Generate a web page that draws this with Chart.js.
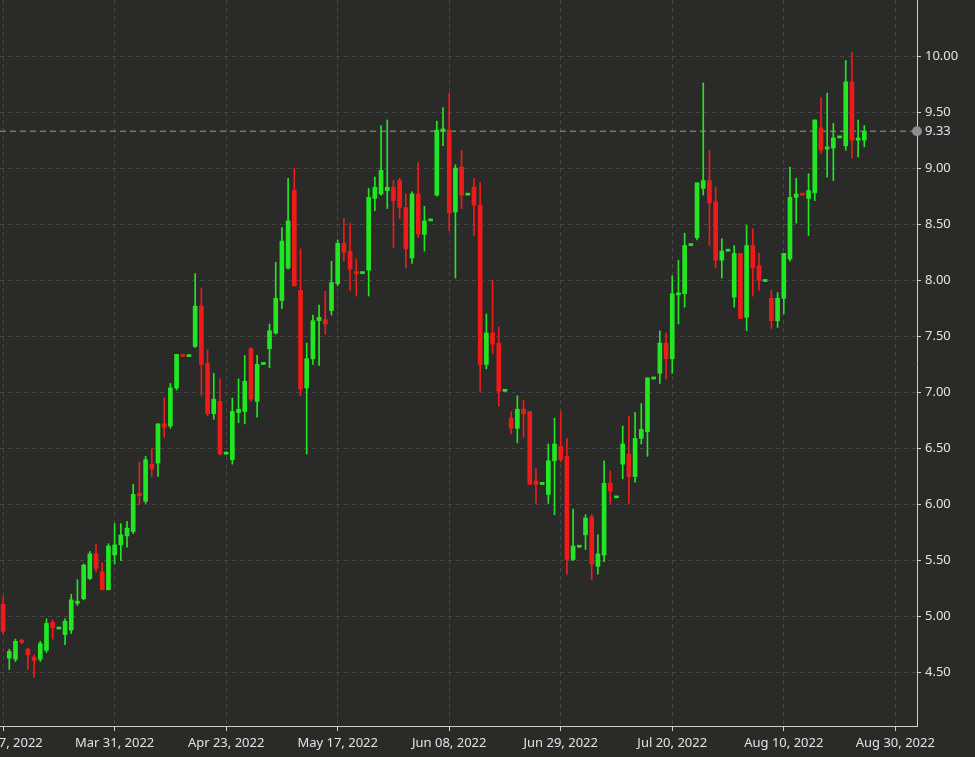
<!DOCTYPE html>
<html>
<head>
<meta charset="utf-8">
<script src="https://cdn.jsdelivr.net/npm/chart.js@4"></script>
<style>
  html, body { margin: 0; padding: 0; background: #2a2b29; }
  #wrap { width: 975px; height: 757px; position: relative; }
</style>
</head>
<body>
<div id="wrap"><canvas id="priceChart"></canvas></div>
<script>
// OHLC per trading day (index 0 = first candle)
const opens = [5.11,4.63,4.62,4.79,4.71,4.64,4.62,4.70,4.95,4.89,4.84,4.88,5.12,5.16,5.34,5.56,5.40,5.24,5.55,5.64,
  5.72,5.76,6.10,6.03,6.36,6.37,6.72,6.70,7.04,7.33,7.32,7.41,7.77,7.26,6.81,6.92,6.45,6.40,6.82,6.83,
  7.39,6.92,7.25,7.39,7.53,7.82,8.11,8.80,7.91,7.04,7.30,7.64,7.65,7.73,7.97,8.33,8.26,8.07,8.06,8.09,
  8.73,8.77,8.80,8.83,8.89,8.65,8.20,8.77,8.41,8.53,8.76,9.33,9.34,8.61,9.01,8.76,8.83,8.67,7.25,7.53,
  7.44,7.01,6.77,6.68,6.85,6.83,6.21,6.18,6.09,6.39,6.52,6.43,5.51,5.62,5.73,5.89,5.45,5.55,6.19,6.06,
  6.36,6.45,6.25,6.59,6.65,7.12,7.17,7.44,7.30,7.87,7.88,8.31,8.38,8.82,8.89,8.70,8.18,8.26,7.85,8.24,
  7.67,8.31,8.13,7.99,7.84,7.64,7.84,8.19,8.74,8.77,8.73,8.78,9.36,9.17,9.18,9.27,9.20,9.77,9.25,9.25];
const closes = [4.87,4.69,4.78,4.77,4.66,4.61,4.76,4.94,4.90,4.90,4.96,5.15,5.13,5.46,5.56,5.43,5.24,5.63,5.64,5.73,
  5.79,6.09,6.08,6.40,6.32,6.72,6.69,7.04,7.34,7.32,7.33,7.77,7.25,6.81,6.94,6.45,6.46,6.83,6.85,7.10,
  6.94,7.25,7.26,7.55,7.84,8.35,8.53,7.95,7.03,7.30,7.64,7.67,7.61,7.98,8.33,8.25,8.10,8.06,8.07,8.74,
  8.83,8.98,8.83,8.71,8.65,8.28,8.77,8.41,8.53,8.54,9.34,9.35,8.60,9.00,8.76,8.77,8.67,7.25,7.53,7.43,
  7.01,7.02,6.68,6.85,6.81,6.18,6.18,6.19,6.39,6.54,6.40,5.51,5.63,5.63,5.88,5.47,5.56,6.19,6.12,6.07,
  6.54,6.25,6.59,6.67,7.13,7.13,7.44,7.30,7.88,7.88,8.31,8.32,8.87,8.89,8.69,8.18,8.26,8.27,8.24,7.66,
  8.31,8.11,8.00,8.00,7.64,7.84,8.24,8.74,8.77,8.76,8.80,9.43,9.16,9.19,9.27,9.28,9.77,9.25,9.27,9.33];
const highs = [5.18,4.71,4.80,4.80,4.72,4.66,4.78,4.98,4.97,4.90,4.98,5.20,5.33,5.47,5.58,5.65,5.48,5.65,5.83,5.83,
  5.85,6.18,6.38,6.43,6.50,6.72,6.95,7.08,7.34,7.33,7.33,8.06,7.93,7.38,7.17,7.12,6.46,6.95,7.12,7.33,
  7.40,7.33,7.26,7.61,8.16,8.47,8.91,9.00,8.28,7.44,7.69,7.78,7.90,8.17,8.36,8.55,8.51,8.19,8.07,8.82,
  8.92,9.38,9.43,8.89,8.91,8.77,8.79,9.05,8.66,8.54,9.42,9.54,9.67,9.03,9.16,8.77,8.91,8.87,7.70,8.00,
  7.58,7.02,6.83,6.97,6.93,6.83,6.32,6.19,6.54,6.77,6.83,6.59,5.96,5.63,5.91,5.91,5.73,6.39,6.30,6.07,
  6.70,6.79,6.82,6.90,7.13,7.13,7.55,7.53,8.04,8.18,8.42,8.32,8.87,9.76,9.16,8.83,8.37,8.27,8.31,8.24,
  8.49,8.46,8.24,8.00,7.91,7.89,8.24,9.01,8.91,8.77,8.95,9.43,9.63,9.67,9.40,9.28,9.96,10.03,9.43,9.38];
const lows = [4.85,4.53,4.60,4.76,4.53,4.46,4.60,4.68,4.80,4.89,4.75,4.85,5.10,5.15,5.33,5.40,5.24,5.24,5.47,5.50,
  5.62,5.74,6.00,6.01,6.25,6.25,6.60,6.68,7.02,7.32,7.32,7.40,6.97,6.79,6.76,6.44,6.45,6.36,6.73,6.72,
  6.92,6.78,7.25,7.22,7.52,7.75,8.10,7.95,6.97,6.45,7.25,7.24,7.52,7.69,7.95,8.17,7.91,7.86,8.06,7.86,
  8.62,8.76,8.64,8.29,8.55,8.11,8.15,8.38,8.26,8.53,8.75,9.20,8.44,8.02,8.64,8.76,8.40,7.01,7.21,7.35,
  6.88,7.01,6.63,6.55,6.60,6.18,6.01,6.18,6.01,5.91,6.38,5.38,5.50,5.62,5.60,5.33,5.38,5.49,6.01,6.06,
  6.23,6.01,6.20,6.54,6.43,7.12,7.08,7.12,7.17,7.61,7.76,8.31,8.36,8.76,8.31,8.11,8.02,8.26,7.76,7.66,
  7.55,7.86,7.91,7.99,7.57,7.58,7.70,8.17,8.51,8.76,8.40,8.71,9.13,8.92,8.89,9.27,9.16,9.09,9.10,9.19];

const tickIdx = [0, 18, 36, 54, 72, 90, 108, 126, 144];
const tickLabels = ["Mar 07, 2022","Mar 31, 2022","Apr 23, 2022","May 17, 2022","Jun 08, 2022",
  "Jun 29, 2022","Jul 20, 2022","Aug 10, 2022","Aug 30, 2022"];
const priceTicks = [4.5, 5, 5.5, 6, 6.5, 7, 7.5, 8, 8.5, 9, 9.33, 9.5, 10];
const lastPrice = 9.33;

const GREEN = "#22e622";
const RED = "#ee1b1b";
const colors = opens.map((o, i) => (closes[i] < o ? RED : GREEN));

const bodies = opens.map((o, i) => ({ x: i, y: [o, closes[i]] }));
const wicks = lows.map((l, i) => ({ x: i, y: [l, highs[i]] }));

// dashed last-price line with marker dot on the axis
const lastPricePlugin = {
  id: "lastPrice",
  beforeDatasetsDraw(chart) {
    const { ctx, chartArea, scales } = chart;
    const y = scales.y.getPixelForValue(lastPrice);
    ctx.save();
    ctx.strokeStyle = "#9a9a9a";
    ctx.lineWidth = 1;
    ctx.setLineDash([6, 4]);
    ctx.beginPath();
    ctx.moveTo(chartArea.left, y);
    ctx.lineTo(chartArea.right, y);
    ctx.stroke();
    ctx.restore();
  },
  afterDraw(chart) {
    const { ctx, chartArea, scales } = chart;
    const y = scales.y.getPixelForValue(lastPrice);
    ctx.save();
    ctx.fillStyle = "#8c8c8c";
    ctx.beginPath();
    ctx.arc(chartArea.right, y, 5, 0, Math.PI * 2);
    ctx.fill();
    ctx.restore();
  },
};

const ctx = document.getElementById("priceChart").getContext("2d");
new Chart(ctx, {
  type: "bar",
  data: {
    datasets: [
      {
        label: "wick",
        data: wicks,
        backgroundColor: colors,
        barThickness: 1,
        grouped: false,
        order: 2,
      },
      {
        label: "body",
        data: bodies,
        backgroundColor: colors,
        barThickness: 4,
        minBarLength: 2,
        grouped: false,
        order: 1,
      },
    ],
  },
  options: {
    responsive: true,
    maintainAspectRatio: false,
    animation: false,
    layout: { padding: 0 },
    plugins: { legend: { display: false }, tooltip: { enabled: false } },
    scales: {
      x: {
        type: "linear",
        min: -0.5,
        max: 147.5,
        offset: false,
        afterBuildTicks: (scale) => {
          scale.ticks = tickIdx.map((v) => ({ value: v }));
        },
        afterFit: (scale) => {
          scale.height = 31;
          scale.paddingLeft = 0;
          scale.paddingRight = 0;
        },
        ticks: {
          autoSkip: false,
          maxRotation: 0,
          color: "#e2e2e2",
          padding: 4,
          font: { family: "Noto Sans", size: 13 },
          callback: (v, i) => tickLabels[i],
        },
        grid: {
          offset: false,
          color: "#474846",
          tickColor: "#d0d0d0",
          tickLength: 5,
        },
        border: { color: "#d0d0d0", dash: [4, 4], width: 1 },
      },
      y: {
        position: "right",
        min: 4.025,
        max: 10.5,
        afterBuildTicks: (scale) => {
          scale.ticks = priceTicks.map((v) => ({ value: v }));
        },
        afterFit: (scale) => {
          scale.width = 58;
          scale.paddingTop = 0;
          scale.paddingBottom = 0;
        },
        ticks: {
          color: "#e2e2e2",
          padding: 4,
          font: { family: "Noto Sans", size: 13 },
          callback: (v) => v.toFixed(2),
        },
        grid: {
          color: (c) => (c.tick && c.tick.value === lastPrice ? "rgba(0,0,0,0)" : "#474846"),
          tickColor: "#d0d0d0",
          tickLength: 4,
        },
        border: { color: "#d0d0d0", dash: [4, 4], width: 1 },
      },
    },
  },
  plugins: [lastPricePlugin],
});
</script>
</body>
</html>
